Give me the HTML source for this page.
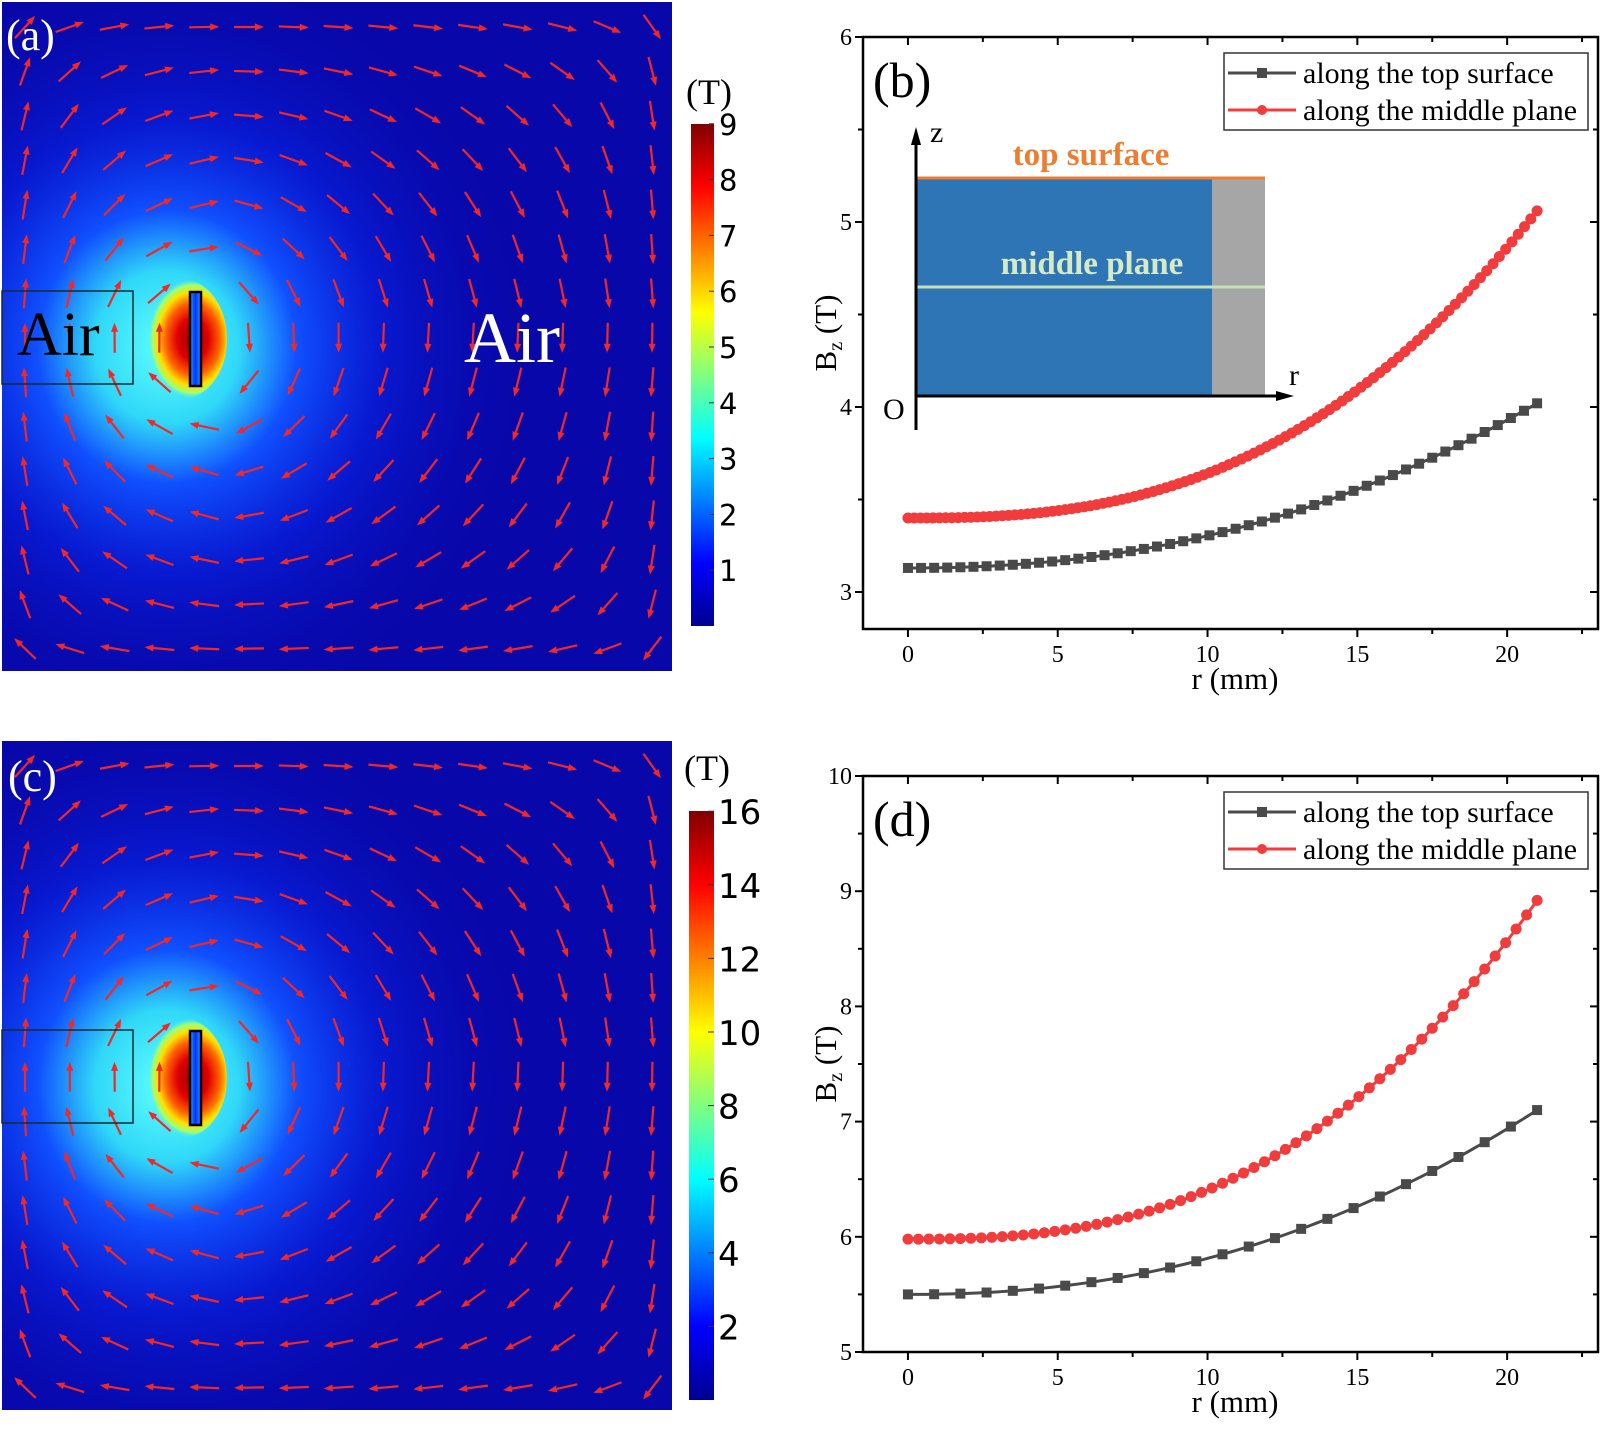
<!DOCTYPE html>
<html><head><meta charset="utf-8"><style>
html,body{margin:0;padding:0;background:#fff}
svg{display:block}
text{font-family:"Liberation Serif",serif}
.s{font-family:"DejaVu Sans","Liberation Sans",sans-serif}
</style></head><body>
<svg id="c" width="1600" height="1429" viewBox="0 0 1600 1429" xmlns="http://www.w3.org/2000/svg">
<defs>
<clipPath id="hc"><rect x="0" y="0" width="670" height="669"/></clipPath>
<linearGradient id="jet" x1="0" y1="1" x2="0" y2="0">
<stop offset="0" stop-color="#00008f"/><stop offset="0.125" stop-color="#0000ff"/>
<stop offset="0.375" stop-color="#00ffff"/><stop offset="0.5" stop-color="#80ff80"/><stop offset="0.625" stop-color="#ffff00"/>
<stop offset="0.875" stop-color="#ff0000"/><stop offset="1" stop-color="#800000"/></linearGradient>
<radialGradient id="glow" cx="0.5" cy="0.5" r="0.5">
<stop offset="0" stop-color="#60ffff"/><stop offset="0.2" stop-color="#30d8f8"/><stop offset="0.36" stop-color="#1050ff"/>
<stop offset="0.6" stop-color="#0820e0" stop-opacity="0.7"/><stop offset="1" stop-color="#0808b0" stop-opacity="0"/></radialGradient>
<radialGradient id="hot" cx="0.62" cy="0.5" r="0.5">
<stop offset="0" stop-color="#900000"/><stop offset="0.35" stop-color="#e00000"/><stop offset="0.6" stop-color="#ff6000"/>
<stop offset="0.78" stop-color="#ffe000"/><stop offset="0.9" stop-color="#a0ff70"/><stop offset="1" stop-color="#50f0f0" stop-opacity="0"/></radialGradient>
<linearGradient id="coilin" x1="0" y1="0" x2="1" y2="0"><stop offset="0" stop-color="#20a0ff"/><stop offset="0.5" stop-color="#0030ff"/><stop offset="1" stop-color="#20a0ff"/></linearGradient>
<g id="heat" clip-path="url(#hc)">
<rect x="0" y="0" width="670" height="669" fill="#0808aa"/>
<ellipse cx="165" cy="345" rx="360" ry="380" fill="url(#glow)"/>
<ellipse cx="180" cy="337" rx="45" ry="60" fill="url(#hot)"/>
<rect x="188" y="290" width="11" height="94" fill="url(#coilin)" stroke="#000" stroke-width="2.5"/>
</g>
</defs>
<g transform="translate(2,2)"><use href="#heat"/><g id="arrA"></g>
<rect x="0" y="289" width="131" height="93" fill="none" stroke="#1a2a2a" stroke-width="1.5"/>
<text x="15" y="353" font-size="62">Air</text>
<text x="462" y="360" font-size="72" fill="#fff">Air</text>
<text x="4" y="48" font-size="44" fill="#fff">(a)</text></g>
<g transform="translate(2,741)"><use href="#heat"/><g id="arrC"></g>
<rect x="0" y="289" width="131" height="93" fill="none" stroke="#1a2a2a" stroke-width="1.5"/>
<text x="6" y="50" font-size="44" fill="#fff">(c)</text></g>
<rect x="691" y="124" width="23" height="502" fill="url(#jet)"/>
<text x="686" y="104" font-size="36">(T)</text>
<g id="cbA"></g>
<rect x="689" y="811" width="25" height="589" fill="url(#jet)"/>
<text x="684" y="780" font-size="36">(T)</text>
<g id="cbC"></g>
<g id="plots"></g>
</svg>
<script>
var NS="http://www.w3.org/2000/svg";
function el(p,t,a,txt){var e=document.createElementNS(NS,t);for(var k in a)e.setAttribute(k,a[k]);if(txt!=null)e.textContent=txt;p.appendChild(e);return e;}
var W=670,H=669,x0=194,y0=337,M=28;
function grad(x,y){var gx=0,gy=0;for(var m=1;m<=M;m++){var km=m*Math.PI/W;var sx0=Math.sin(km*x0);for(var n=1;n<=M;n++){var kn=n*Math.PI/H;var c=sx0*Math.sin(kn*y0)/(km*km+kn*kn);gx+=c*km*Math.cos(km*x)*Math.sin(kn*y);gy+=c*kn*Math.sin(km*x)*Math.cos(kn*y);}}return [gx,gy];}
function arrows(g){for(var i=0;i<15;i++)for(var j=0;j<15;j++){var x=23+i*44.8,y=25+j*44.4;if(Math.abs(x-x0)<16&&Math.abs(y-y0)<55)continue;var d=grad(x,y);var bx=d[1],by=-d[0];var L=Math.hypot(bx,by)||1;bx/=L;by/=L;var l=30;var xa=x-bx*l/2,ya=y-by*l/2,xb=x+bx*l/2,yb=y+by*l/2;
el(g,"line",{x1:xa,y1:ya,x2:xb-bx*5,y2:yb-by*5,stroke:"#f02828","stroke-width":2.2});
var px=-by,py=bx;el(g,"polygon",{points:xb+","+yb+" "+(xb-bx*9+px*3.5)+","+(yb-by*9+py*3.5)+" "+(xb-bx*9-px*3.5)+","+(yb-by*9-py*3.5),fill:"#f02828"});}}
arrows(document.getElementById("arrA"));arrows(document.getElementById("arrC"));
var cA=document.getElementById("cbA");for(var v=1;v<=9;v++){var y=626-v*55.8;el(cA,"text",{x:719,y:y+11,"font-size":29,"class":"s"},v);el(cA,"line",{x1:709,y1:y,x2:714,y2:y,stroke:"#333","stroke-width":1});}
var cC=document.getElementById("cbC");for(var v=2;v<=16;v+=2){var y=1400-v*36.8;el(cC,"text",{x:718,y:y+13,"font-size":34,"class":"s"},v);el(cC,"line",{x1:708,y1:y,x2:714,y2:y,stroke:"#333","stroke-width":1});}
var P=document.getElementById("plots");
function xm(r){return 863+(r+1.5)*29.96;}
function plot(top,bot,ymin,ymax,step,lab,ca,cb,n1,n2,legTop,title){
 var ym=function(v){return bot-(v-ymin)/(ymax-ymin)*(bot-top);};
 el(P,"rect",{x:863,y:top,width:735,height:bot-top,fill:"none",stroke:"#000","stroke-width":2.5});
 for(var r=0;r<=22.5;r+=2.5){var X=xm(r),mj=(r%5==0),L=mj?8:5;el(P,"line",{x1:X,y1:bot,x2:X,y2:bot+L,stroke:"#000","stroke-width":2});el(P,"line",{x1:X,y1:top,x2:X,y2:top+L,stroke:"#000","stroke-width":2});
  if(mj&&r<=20)el(P,"text",{x:X,y:bot+33,"font-size":24,"text-anchor":"middle"},r);}
 for(var h=Math.ceil(ymin*2);h<=Math.floor(ymax*2);h++){var v=h/2;var Y=ym(v),mj=(h%2==0),L=mj?8:5;el(P,"line",{x1:863-L,y1:Y,x2:863,y2:Y,stroke:"#000","stroke-width":2});el(P,"line",{x1:1598-L,y1:Y,x2:1598,y2:Y,stroke:"#000","stroke-width":2});
  if(mj)el(P,"text",{x:852,y:Y+8,"font-size":24,"text-anchor":"end"},v);}
 el(P,"text",{x:1235,y:bot+60,"font-size":31,"text-anchor":"middle"},"r (mm)");
 var yc=(top+bot)/2;var t=el(P,"text",{transform:"translate(836,"+yc+") rotate(-90)","font-size":31,"text-anchor":"middle"});
 t.innerHTML='B<tspan font-size="20" dy="6">z</tspan><tspan dy="-6"> (T)</tspan>';
 el(P,"text",{x:873,y:top+60,"font-size":50},title);
 function f(r,a,b,p){return a+b*Math.pow(r/21,p);}
 var pts=[];for(var i=0;i<=100;i++){var r=21*i/100;pts.push(xm(r)+","+ym(f(r,ca[0],ca[1],2.2)));}
 el(P,"polyline",{points:pts.join(" "),fill:"none",stroke:"#4a4a4a","stroke-width":3});
 for(var i=0;i<=n1;i++){var r=21*i/n1;el(P,"rect",{x:xm(r)-5,y:ym(f(r,ca[0],ca[1],2.2))-5,width:10,height:10,fill:"#4a4a4a"});}
 pts=[];for(var i=0;i<=100;i++){var r=21*i/100;pts.push(xm(r)+","+ym(f(r,cb[0],cb[1],2.6)));}
 el(P,"polyline",{points:pts.join(" "),fill:"none",stroke:"#f03c3c","stroke-width":3});
 for(var i=0;i<=n2;i++){var r=21*i/n2;el(P,"circle",{cx:xm(r),cy:ym(f(r,cb[0],cb[1],2.6)),r:5.5,fill:"#f03c3c"});}
 el(P,"rect",{x:1224,y:legTop,width:364,height:77,fill:"#fff",stroke:"#333","stroke-width":1.5});
 var r1=legTop+20,r2=legTop+57;
 el(P,"line",{x1:1228,y1:r1,x2:1296,y2:r1,stroke:"#4a4a4a","stroke-width":3});el(P,"rect",{x:1257,y:r1-5,width:10,height:10,fill:"#4a4a4a"});
 el(P,"line",{x1:1228,y1:r2,x2:1296,y2:r2,stroke:"#f03c3c","stroke-width":3});el(P,"circle",{cx:1262,cy:r2,r:5,fill:"#f03c3c"});
 el(P,"text",{x:1303,y:r1+10,"font-size":30},"along the top surface");
 el(P,"text",{x:1303,y:r2+10,"font-size":30},"along the middle plane");
}
plot(37,629,2.8,6,1,0,[3.13,0.89],[3.40,1.66],48,100,53,"(b)");
plot(776,1352,5,10,1,0,[5.50,1.60],[5.98,2.94],24,60,792,"(d)");
el(P,"rect",{x:915,y:178,width:297,height:218,fill:"#2e75b6"});
el(P,"rect",{x:1212,y:178,width:53,height:218,fill:"#a6a6a6"});
el(P,"line",{x1:915,y1:178,x2:1265,y2:178,stroke:"#ed7d31","stroke-width":3});
el(P,"line",{x1:915,y1:287,x2:1265,y2:287,stroke:"#c5e0b4","stroke-width":3});
el(P,"line",{x1:916,y1:430,x2:916,y2:140,stroke:"#000","stroke-width":3});
el(P,"polygon",{points:"916,127 911,145 921,145",fill:"#000"});
el(P,"line",{x1:915,y1:396,x2:1278,y2:396,stroke:"#000","stroke-width":3});
el(P,"polygon",{points:"1294,396 1276,391 1276,401",fill:"#000"});
el(P,"text",{x:930,y:142,"font-size":30},"z");
el(P,"text",{x:1289,y:385,"font-size":30},"r");
el(P,"text",{x:883,y:419,"font-size":30},"O");
el(P,"text",{x:1091,y:165,"font-size":33,"font-weight":"bold",fill:"#ed7d31","text-anchor":"middle"},"top surface");
el(P,"text",{x:1092,y:274,"font-size":33,"font-weight":"bold",fill:"#d5ebc8","text-anchor":"middle"},"middle plane");
</script>
</body></html>
